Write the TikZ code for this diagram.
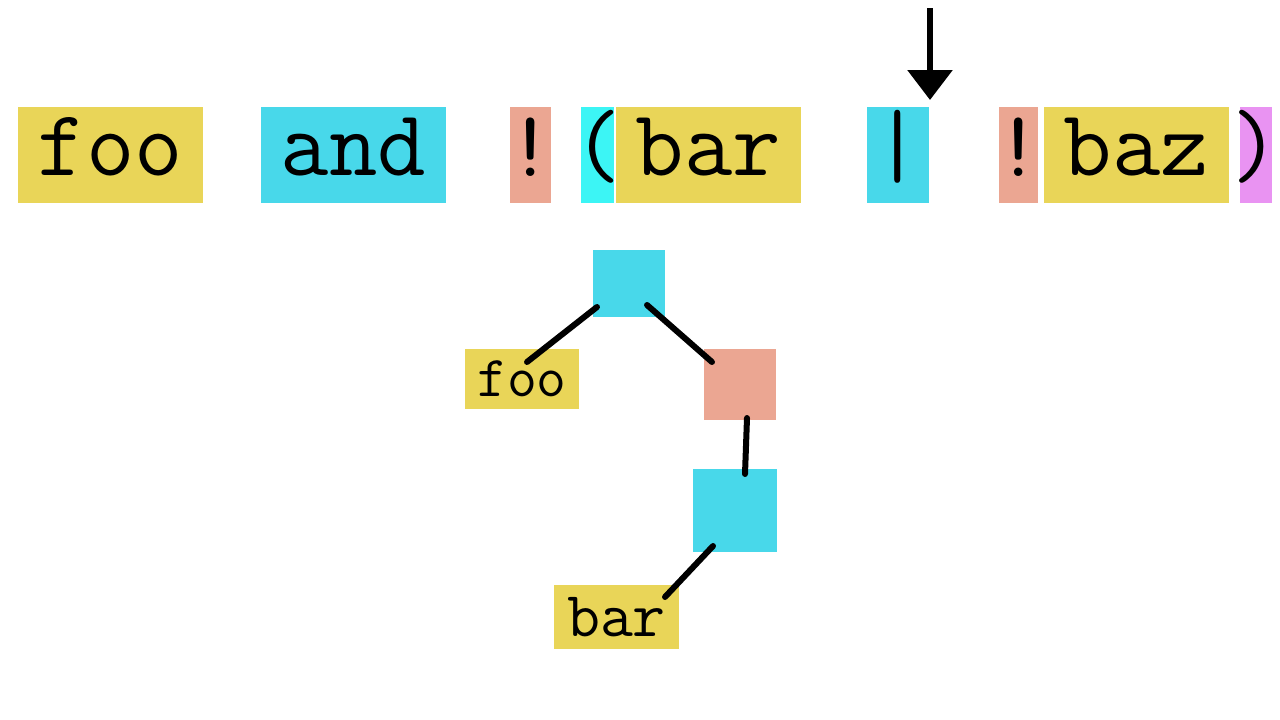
\documentclass[tikz,border=0pt]{standalone}
\usetikzlibrary{arrows.meta,calc}
\definecolor{cy}{HTML}{48D8EA}
\definecolor{ye}{HTML}{E9D558}
\definecolor{sa}{HTML}{EBA692}
\definecolor{bc}{HTML}{3CF5F5}
\definecolor{vi}{HTML}{E993F2}
\tikzset{
 tok/.style={inner sep=0pt,outer sep=0pt,font=\ttfamily\fontsize{94}{94}\selectfont},
 small/.style={inner sep=0pt,outer sep=0pt,font=\ttfamily\fontsize{58}{58}\selectfont},
 edge/.style={line width=6pt,line cap=round}
}
\begin{document}
\begin{tikzpicture}[x=1pt,y=-1pt]
\useasboundingbox[fill=white] (0,0) rectangle (1280,720);
\newcommand\tokbox[5]{\fill[#1] (#2,107) rectangle (#3,203); \node[tok] (#4) at ({(#2+#3)/2},147) {#5};}
\tokbox{ye}{18}{203}{t1}{foo}
\tokbox{cy}{261}{446}{t2}{and}
\tokbox{sa}{510}{551}{t3}{!}
\tokbox{bc}{581}{614}{t4}{(}
\tokbox{ye}{616}{801}{t5}{bar}
\tokbox{cy}{867}{929}{t6}{|}
\tokbox{sa}{999}{1038}{t7}{!}
\tokbox{ye}{1044}{1229}{t8}{baz}
\tokbox{vi}{1240}{1272}{t9}{)}
\coordinate (a0) at (930,8);
\coordinate (a1) at (930,100);
\draw[line width=6pt,-{Triangle[length=30pt,width=44pt]}] (a0) -- (a1);
\node[fill=cy,minimum width=72pt,minimum height=67pt,inner sep=0pt] (r) at (629,283.5) {};
\node[fill=ye,small,minimum width=114pt,minimum height=60pt] (f) at (522,379) {foo};
\node[fill=sa,minimum width=72pt,minimum height=71pt,inner sep=0pt] (n) at (740,384.5) {};
\node[fill=cy,minimum width=84pt,minimum height=83pt,inner sep=0pt] (o) at (735,510.5) {};
\node[fill=ye,inner sep=0pt,font=\ttfamily\fontsize{64}{64}\selectfont,minimum width=125pt,minimum height=64pt] (b) at (616.5,617) {bar};
\draw[edge] ($(r)+(-32,23.5)$) -- ($(f)+(5,-17)$);
\draw[edge] ($(r)+(18,21.5)$) -- ($(n)+(-28,-22.5)$);
\draw[edge] ($(n)+(7,33.5)$) -- ($(o)+(10,-36.5)$);
\draw[edge] ($(o)+(-22,35.5)$) -- ($(b)+(48.5,-20)$);
\end{tikzpicture}
\end{document}
